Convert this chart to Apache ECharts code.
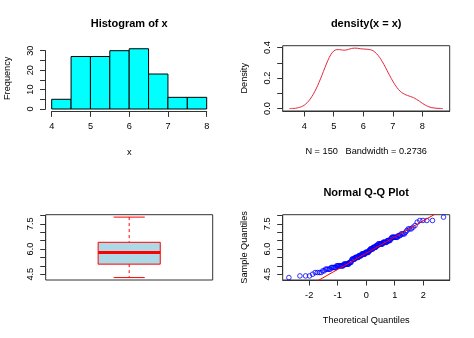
<!DOCTYPE html>
<html>
<head>
<meta charset="utf-8">
<script src="https://cdn.jsdelivr.net/npm/echarts@6/dist/echarts.min.js"></script>
<style>html,body{margin:0;padding:0;background:#fff}#c{width:474px;height:338px}</style>
</head>
<body>
<div id="c"></div>
<script>
// ---- data ----
const histBreaks = [4, 4.5, 5, 5.5, 6, 6.5, 7, 7.5, 8];
const histCounts = [5, 27, 27, 30, 31, 18, 6, 6];
const histXTicks = [4, 5, 6, 7, 8];
const histYLabels = [0, 10, 20, 30];

const densX = [3.5,3.6,3.7,3.8,3.9,4.0,4.1,4.2,4.3,4.4,4.5,4.6,4.7,4.8,4.9,5.0,5.1,5.2,5.3,5.4,5.5,5.6,5.7,5.8,5.9,6.0,6.1,6.2,6.3,6.4,6.5,6.6,6.7,6.8,6.9,7.0,7.1,7.2,7.3,7.4,7.5,7.6,7.7,7.8,7.9,8.0,8.1,8.2,8.3,8.4,8.5,8.6,8.7];
const densY = [0.000,0.001,0.002,0.006,0.012,0.022,0.039,0.062,0.092,0.128,0.171,0.218,0.268,0.315,0.353,0.377,0.386,0.386,0.383,0.383,0.388,0.393,0.396,0.395,0.392,0.390,0.389,0.387,0.382,0.369,0.349,0.322,0.289,0.252,0.215,0.180,0.149,0.124,0.106,0.094,0.086,0.079,0.072,0.061,0.049,0.035,0.023,0.014,0.007,0.004,0.002,0.001,0.000];
const densXTicks = [4, 5, 6, 7, 8];
const densYLabels = [0, 0.2, 0.4];

const boxStats = [4.3, 5.1, 5.8, 6.4, 7.9]; // min, Q1, median, Q3, max
const boxYLabels = [4.5, 6.0, 7.5];

const qqTheo = [-2.713,-2.326,-2.128,-1.989,-1.881,-1.791,-1.713,-1.645,-1.583,-1.527,
-1.476,-1.428,-1.383,-1.341,-1.301,-1.263,-1.227,-1.192,-1.159,-1.126,
-1.095,-1.065,-1.036,-1.008,-0.981,-0.954,-0.928,-0.903,-0.878,-0.854,
-0.830,-0.806,-0.783,-0.761,-0.739,-0.717,-0.695,-0.674,-0.654,-0.633,
-0.613,-0.593,-0.573,-0.553,-0.534,-0.515,-0.496,-0.477,-0.458,-0.440,
-0.421,-0.403,-0.385,-0.367,-0.349,-0.332,-0.314,-0.297,-0.279,-0.262,
-0.245,-0.228,-0.210,-0.193,-0.176,-0.160,-0.143,-0.126,-0.109,-0.092,
-0.075,-0.059,-0.042,-0.025,-0.008,
0.008,0.025,0.042,0.059,0.075,0.092,0.109,0.126,0.143,0.160,
0.176,0.193,0.210,0.228,0.245,0.262,0.279,0.297,0.314,0.332,
0.349,0.367,0.385,0.403,0.421,0.440,0.458,0.477,0.496,0.515,
0.534,0.553,0.573,0.593,0.613,0.633,0.654,0.674,0.695,0.717,
0.739,0.761,0.783,0.806,0.830,0.854,0.878,0.903,0.928,0.954,
0.981,1.008,1.036,1.065,1.095,1.126,1.159,1.192,1.227,1.263,
1.301,1.341,1.383,1.428,1.476,1.527,1.583,1.645,1.713,1.791,
1.881,1.989,2.128,2.326,2.713];
const qqSample = [4.3,4.4,4.4,4.4,4.5,4.6,4.6,4.6,4.6,4.7,
4.7,4.8,4.8,4.8,4.8,4.8,4.9,4.9,4.9,4.9,
4.9,4.9,5.0,5.0,5.0,5.0,5.0,5.0,5.0,5.0,
5.0,5.0,5.1,5.1,5.1,5.1,5.1,5.1,5.1,5.1,
5.1,5.2,5.2,5.2,5.2,5.3,5.4,5.4,5.4,5.4,
5.4,5.4,5.5,5.5,5.5,5.5,5.5,5.5,5.5,5.6,
5.6,5.6,5.6,5.6,5.6,5.7,5.7,5.7,5.7,5.7,
5.7,5.7,5.7,5.8,5.8,5.8,5.8,5.8,5.8,5.8,
5.9,5.9,5.9,6.0,6.0,6.0,6.0,6.0,6.0,6.1,
6.1,6.1,6.1,6.1,6.1,6.2,6.2,6.2,6.2,6.3,
6.3,6.3,6.3,6.3,6.3,6.3,6.3,6.3,6.4,6.4,
6.4,6.4,6.4,6.4,6.4,6.5,6.5,6.5,6.5,6.5,
6.6,6.6,6.7,6.7,6.7,6.7,6.7,6.7,6.7,6.7,
6.8,6.8,6.8,6.9,6.9,6.9,6.9,7.0,7.1,7.2,
7.2,7.2,7.3,7.4,7.6,7.7,7.7,7.7,7.7,7.9];
const qqLineX = [-3, 3];
const qqLineY = [2.859, 8.641];
const qqXTicks = [-2, -1, 0, 1, 2];

// ---- styles ----
const FF = '"Liberation Sans", Arial, Helvetica, sans-serif';
const AX = '#333';
const tickFont = 9.2;

const hasVal = (arr, v) => arr.some(l => Math.abs(l - v) < 1e-9);

function mkAxis(gridIndex, min, max, opts) {
  opts = opts || {};
  const a = {
    type: 'value', gridIndex: gridIndex, min: min, max: max,
    splitLine: { show: false },
    axisLine: { show: opts.noLine ? false : true, onZero: false, lineStyle: { color: AX, width: 1 } },
    axisTick: { show: opts.noTick ? false : true, inside: !!opts.tickInside, length: 5.5, lineStyle: { color: AX, width: 1 } },
    axisLabel: { show: opts.noLabel ? false : true, color: '#000', fontSize: tickFont, fontFamily: FF, margin: 11 }
  };
  if (opts.position) a.position = opts.position;
  if (opts.interval) a.interval = opts.interval;
  if (opts.offset) a.offset = opts.offset;
  if (opts.rotate) a.axisLabel.rotate = opts.rotate;
  if (opts.ticks) { a.axisTick.customValues = opts.ticks; a.axisLabel.customValues = opts.ticks; }
  if (opts.labels) {
    const labs = opts.labels, dec = opts.dec || 0;
    a.axisLabel.formatter = v => hasVal(labs, v) ? Number(v).toFixed(dec) : '';
  }
  return a;
}
function hiddenAxis(gridIndex, min, max) {
  return { type: 'value', gridIndex: gridIndex, min: min, max: max, show: false, axisLine: { onZero: false }, splitLine: { show: false } };
}
// y axes in R style: a right-side axis shifted onto the left edge draws line + outward ticks,
// and a left axis draws the rotated tick labels
function yTicks(g, min, max, interval, shift) {
  return mkAxis(g, min, max, { position: 'right', interval: interval, offset: shift, noLabel: true, tickInside: true });
}
function yLabels(g, min, max, interval, offset, labels, dec) {
  return mkAxis(g, min, max, { position: 'left', interval: interval, offset: offset, noLine: true, noTick: true, rotate: 90, labels: labels, dec: dec });
}

const histData = histCounts.map((c, i) => [histBreaks[i], histBreaks[i + 1], c]);
const densData = densX.map((x, i) => [x, densY[i]]);
const qqData = qqTheo.map((x, i) => [x, qqSample[i]]);
const qqLine = qqLineX.map((x, i) => [x, qqLineY[i]]);

const gridStyle = { show: true, borderColor: AX, borderWidth: 1, backgroundColor: 'transparent', outerBoundsMode: 'none', containLabel: false };
const plainGrid = { show: false, outerBoundsMode: 'none', containLabel: false };

const option = {
  animation: false,
  backgroundColor: '#fff',
  grid: [
    Object.assign({ left: 51.7, top: 50.7, width: 155, height: 58.3 }, plainGrid),      // 0 histogram (tick range)
    Object.assign({ left: 282.7, top: 45.7, width: 167, height: 65.3 }, gridStyle),     // 1 density plot region
    Object.assign({ left: 45.7, top: 214.7, width: 167, height: 65.3 }, gridStyle),     // 2 boxplot plot region
    Object.assign({ left: 282.7, top: 214.7, width: 167, height: 65.3 }, gridStyle),    // 3 qq plot region
    Object.assign({ left: 282.7, top: 47.5, width: 167, height: 61.09 }, plainGrid),    // 4 density y tick range
    Object.assign({ left: 45.7, top: 215.44, width: 167, height: 58.78 }, plainGrid),   // 5 boxplot y tick range
    Object.assign({ left: 282.7, top: 215.44, width: 167, height: 58.78 }, plainGrid)   // 6 qq y tick range
  ],
  xAxis: [
    mkAxis(0, 4, 8, { position: 'bottom', offset: 2.4, interval: 1 }),
    mkAxis(1, 3.27, 8.93, { position: 'bottom', ticks: densXTicks }),
    hiddenAxis(2, 0.5, 1.5),
    mkAxis(3, -2.93, 2.93, { position: 'bottom', ticks: qqXTicks }),
    hiddenAxis(4, 0, 1),
    hiddenAxis(5, 0, 1),
    hiddenAxis(6, 0, 1)
  ],
  yAxis: [
    yTicks(0, 0, 30, 5, -161.2),
    hiddenAxis(1, -0.0158, 0.4118),
    hiddenAxis(2, 4.156, 8.044),
    hiddenAxis(3, 4.156, 8.044),
    yTicks(4, 0, 0.4, 0.1, -167),
    yTicks(5, 4.5, 8.0, 0.5, -167),
    yTicks(6, 4.5, 8.0, 0.5, -167),
    yLabels(0, 0, 30, 5, 6.2, histYLabels, 0),
    yLabels(4, 0, 0.4, 0.1, 0, densYLabels, 1),
    yLabels(5, 4.5, 8.0, 0.5, 0, boxYLabels, 1),
    yLabels(6, 4.5, 8.0, 0.5, 0, boxYLabels, 1)
  ],
  series: [
    {
      type: 'custom', xAxisIndex: 0, yAxisIndex: 0, clip: false,
      data: histData,
      encode: { x: [0, 1], y: 2 },
      renderItem: function (params, api) {
        const p0 = api.coord([api.value(0), api.value(2)]);
        const p1 = api.coord([api.value(1), 0]);
        return { type: 'rect',
          shape: { x: p0[0], y: p0[1], width: p1[0] - p0[0], height: p1[1] - p0[1] },
          style: { fill: '#00FFFF', stroke: '#000', lineWidth: 1 } };
      }
    },
    {
      type: 'line', xAxisIndex: 1, yAxisIndex: 1, data: densData,
      showSymbol: false, symbol: 'none', smooth: 0.3,
      lineStyle: { color: '#E5283F', width: 1 }
    },
    {
      type: 'custom', xAxisIndex: 2, yAxisIndex: 2, clip: false,
      data: [[1].concat(boxStats)],
      renderItem: function (params, api) {
        const c = api.value(0), lo = api.value(1), q1 = api.value(2), med = api.value(3), q3 = api.value(4), hi = api.value(5);
        const bw = 0.186, cw = 0.093;
        const tl = api.coord([c - bw, q3]);
        const br = api.coord([c + bw, q1]);
        const m = api.coord([c, med]);
        const top = api.coord([c, hi]);
        const bot = api.coord([c, lo]);
        const cl = api.coord([c - cw, hi])[0];
        const cr = api.coord([c + cw, hi])[0];
        const red = '#FF0000';
        return { type: 'group', children: [
          { type: 'line', shape: { x1: top[0], y1: top[1], x2: top[0], y2: tl[1] }, style: { stroke: red, lineWidth: 1, lineDash: [3, 3] } },
          { type: 'line', shape: { x1: bot[0], y1: br[1], x2: bot[0], y2: bot[1] }, style: { stroke: red, lineWidth: 1, lineDash: [3, 3] } },
          { type: 'line', shape: { x1: cl, y1: top[1], x2: cr, y2: top[1] }, style: { stroke: red, lineWidth: 1 } },
          { type: 'line', shape: { x1: cl, y1: bot[1], x2: cr, y2: bot[1] }, style: { stroke: red, lineWidth: 1 } },
          { type: 'rect', shape: { x: tl[0], y: tl[1], width: br[0] - tl[0], height: br[1] - tl[1] }, style: { fill: '#ADD8E6', stroke: red, lineWidth: 1 } },
          { type: 'line', shape: { x1: tl[0], y1: m[1], x2: br[0], y2: m[1] }, style: { stroke: red, lineWidth: 3 } }
        ] };
      }
    },
    {
      type: 'scatter', xAxisIndex: 3, yAxisIndex: 3, data: qqData,
      symbol: 'circle', symbolSize: 4.6,
      itemStyle: { color: 'rgba(0,0,0,0)', borderColor: '#0000FF', borderWidth: 1 },
      z: 2
    },
    {
      type: 'line', xAxisIndex: 3, yAxisIndex: 3, data: qqLine, clip: true,
      showSymbol: false, symbol: 'none',
      lineStyle: { color: '#FF0000', width: 1 }, z: 3
    }
  ],
  graphic: [
    { type: 'text', x: 129.2, y: 24, style: { text: 'Histogram of x', font: 'bold 11px ' + FF, fill: '#000', textAlign: 'center', textVerticalAlign: 'middle' } },
    { type: 'text', x: 366.2, y: 24, style: { text: 'density(x = x)', font: 'bold 11px ' + FF, fill: '#000', textAlign: 'center', textVerticalAlign: 'middle' } },
    { type: 'text', x: 366.2, y: 193, style: { text: 'Normal Q-Q Plot', font: 'bold 11px ' + FF, fill: '#000', textAlign: 'center', textVerticalAlign: 'middle' } },
    { type: 'text', x: 129.2, y: 152, style: { text: 'x', font: tickFont + 'px ' + FF, fill: '#000', textAlign: 'center', textVerticalAlign: 'middle' } },
    { type: 'text', x: 366.2, y: 151.5, style: { text: 'N = 150   Bandwidth = 0.2736', font: tickFont + 'px ' + FF, fill: '#000', textAlign: 'center', textVerticalAlign: 'middle' } },
    { type: 'text', x: 366.2, y: 320.5, style: { text: 'Theoretical Quantiles', font: tickFont + 'px ' + FF, fill: '#000', textAlign: 'center', textVerticalAlign: 'middle' } },
    { type: 'text', x: 7, y: 78.3, rotation: Math.PI / 2, style: { text: 'Frequency', font: tickFont + 'px ' + FF, fill: '#000', textAlign: 'center', textVerticalAlign: 'middle' } },
    { type: 'text', x: 244, y: 78.3, rotation: Math.PI / 2, style: { text: 'Density', font: tickFont + 'px ' + FF, fill: '#000', textAlign: 'center', textVerticalAlign: 'middle' } },
    { type: 'text', x: 244, y: 247.4, rotation: Math.PI / 2, style: { text: 'Sample Quantiles', font: tickFont + 'px ' + FF, fill: '#000', textAlign: 'center', textVerticalAlign: 'middle' } }
  ]
};

const chart = echarts.init(document.getElementById('c'), null, { renderer: 'canvas' });
chart.setOption(option);
</script>
</body>
</html>
